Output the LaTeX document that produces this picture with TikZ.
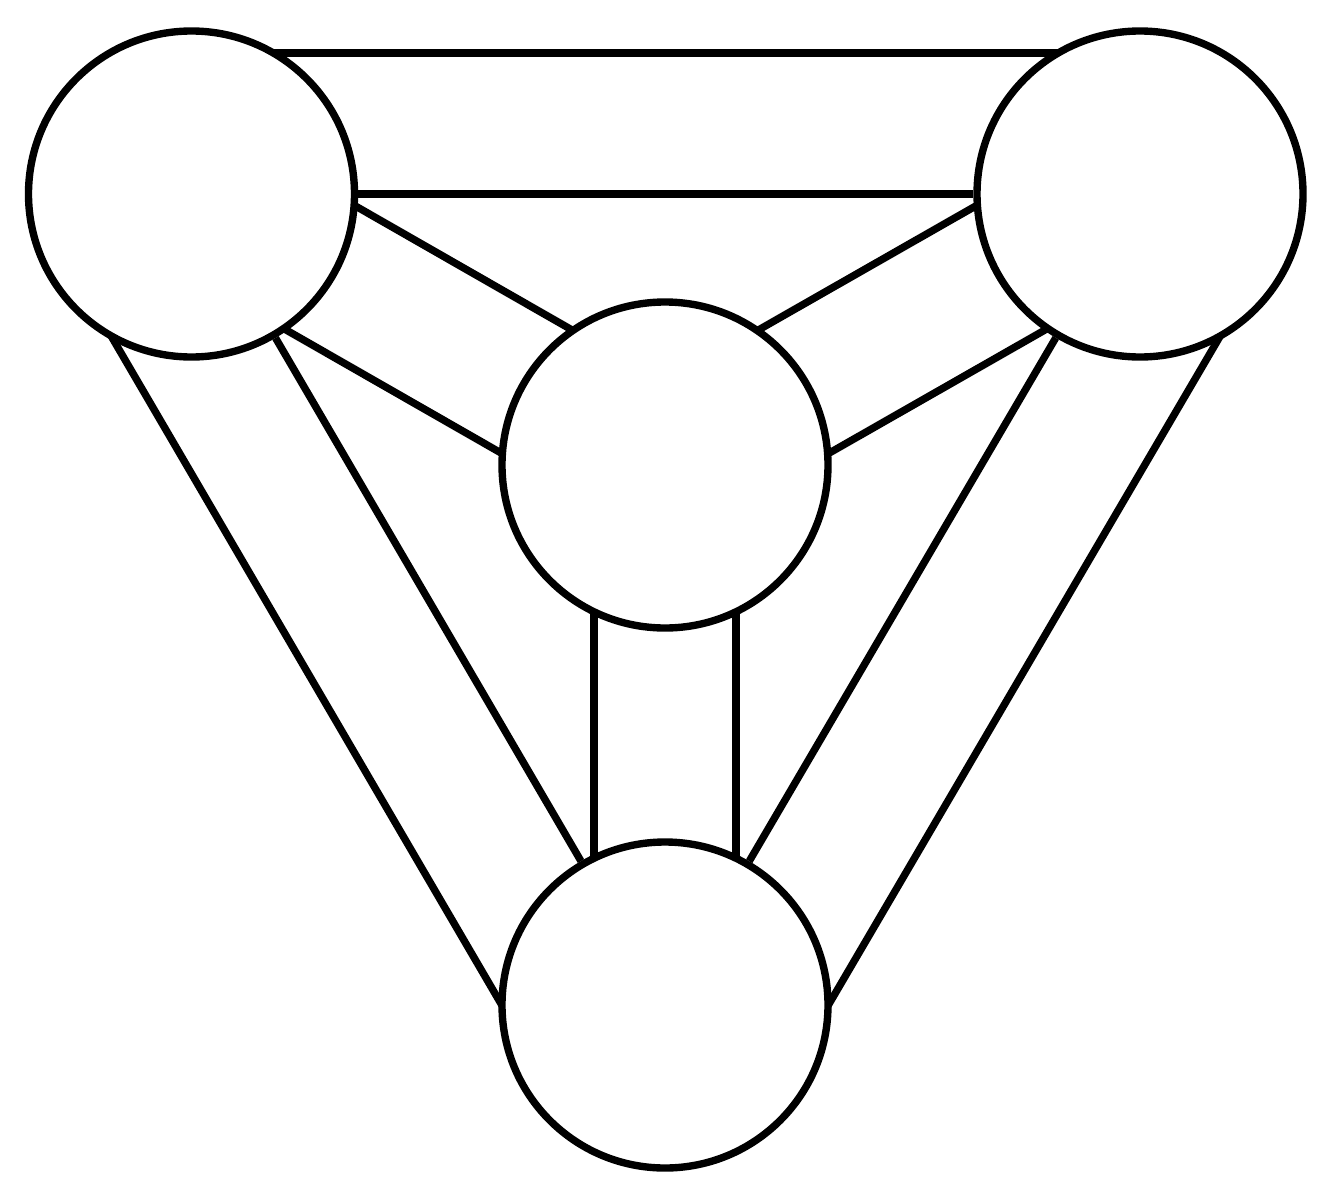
\documentclass[tikz,border=0pt]{standalone}
\usetikzlibrary{calc,backgrounds}
\tikzset{
	vertex/.style = {circle, draw, fill = white, line width = 2.1pt, minimum size = 3.26cm, inner sep = 0pt},
	link/.style = {line width = 2.1pt}
}
\begin{document}
\begin{tikzpicture}
	
	\useasboundingbox (0,0) rectangle (13.31,-11.98);
	
	% vertices
	\node[vertex] (left) at (1.915,-1.94) {};
	\node[vertex] (right) at (11.40,-1.94) {};
	\node[vertex] (mid) at (6.65,-4.65) {};
	\node[vertex] (bottom) at (6.65,-10.05) {};
	
	\begin{scope}[on background layer]
		% outer edges: one line on the centres, one pushed outwards
		\foreach \a/\b in {left/right,right/bottom,bottom/left} {
			\draw[link] (\a) -- (\b);
			\draw[link] ($(\a)!1.41cm!90:(\b)$) -- ($(\b)!1.41cm!-90:(\a)$);
		}
		% inner edges: two lines round the centre line
		\foreach \a in {left,right,bottom} {
			\draw[link] ($(\a)!0.71cm!90:(mid)$) -- ($(mid)!0.71cm!-90:(\a)$);
			\draw[link] ($(\a)!0.71cm!-90:(mid)$) -- ($(mid)!0.71cm!90:(\a)$);
		}
	\end{scope}
	
\end{tikzpicture}
\end{document}
